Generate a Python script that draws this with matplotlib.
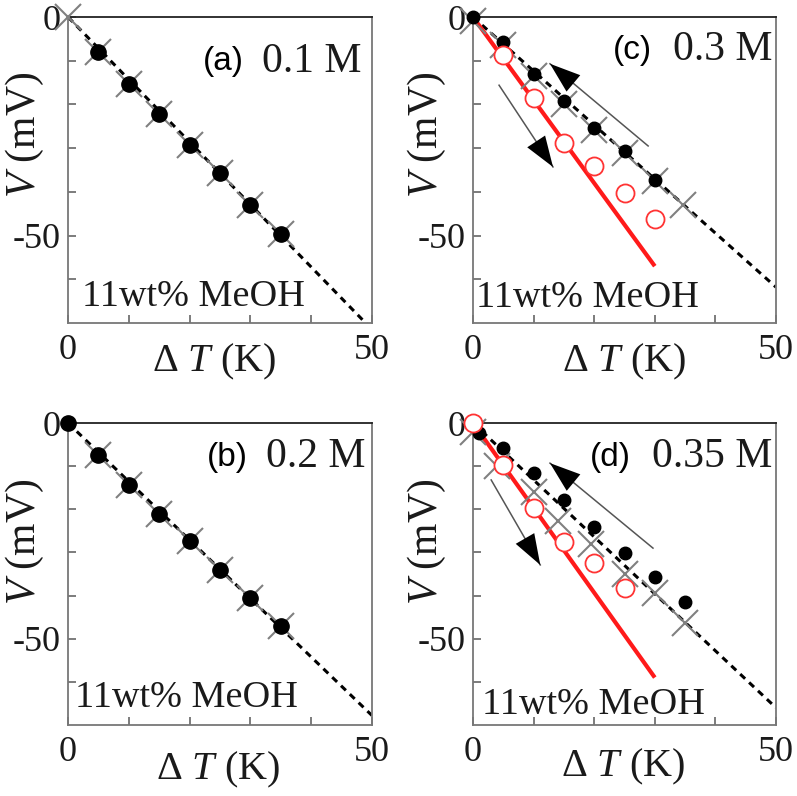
import matplotlib
matplotlib.use("Agg")
import matplotlib.pyplot as plt

plt.rcParams['font.family'] = ['Liberation Serif', 'DejaVu Serif']
plt.rcParams['mathtext.fontset'] = 'custom'
plt.rcParams['mathtext.rm'] = 'Liberation Serif'
plt.rcParams['mathtext.it'] = 'Liberation Serif:italic'
plt.rcParams['axes.unicode_minus'] = False

# ---------------- data ----------------
x_ticks = [0, 10, 20, 30, 40, 50]
x_ticklabels = ['0', '', '', '', '', '50']
y_ticks = [0, -10, -20, -30, -40, -50, -60]
y_ticklabels = ['0', '', '', '', '', '-50', '']

# (a) 0.1 M
a_T = [5, 10, 15, 20, 25, 30, 35]
a_V = [-8.1, -15.4, -22.3, -29.2, -35.6, -43.1, -49.6]
a_errT = [0, 5, 10, 15, 20, 25, 30, 35]
a_errV = [0, -8.1, -15.4, -22.3, -29.2, -35.6, -43.1, -49.6]
a_fitT = [0, 50]
a_fitV = [0, -71.5]

# (b) 0.2 M
b_T = [0, 5, 10, 15, 20, 25, 30, 35]
b_V = [0, -7.4, -14.3, -21.2, -27.4, -34.0, -40.6, -47.0]
b_errT = [5, 10, 15, 20, 25, 30, 35]
b_errV = [-7.4, -14.3, -21.2, -27.4, -34.0, -40.6, -47.0]
b_fitT = [0, 50]
b_fitV = [0, -67.8]

# (c) 0.3 M
c_T = [0, 5, 10, 15, 20, 25, 30]
c_V = [0, -5.7, -13.0, -19.3, -25.3, -30.6, -37.3]
c_errT = [0, 5, 10, 15, 20, 25, 30, 34.6]
c_errV = [-1, -6.5, -13.5, -20.0, -25.8, -31.0, -37.5, -42.9]
c_redT = [5, 10, 15, 20, 25, 30]
c_redV = [-8.8, -18.5, -28.9, -34.0, -40.2, -46.2]
c_fitT = [0, 50]
c_fitV = [0, -61.8]
c_redfitT = [0, 30]
c_redfitV = [0, -57.0]
c_arrow_up = ([28.9, 12.7], [-29.5, -10.7])
c_arrow_dn = ([4.3, 13.2], [-15.6, -34.3])

# (d) 0.35 M
d_T = [1, 5, 10, 15, 20, 25, 30, 35]
d_V = [-2.4, -5.9, -11.7, -17.8, -24.0, -30.2, -35.6, -41.4]
d_errT = [0, 4, 10, 14, 19.5, 25, 30, 35]
d_errV = [-2, -10, -15.9, -22.6, -28.0, -34.9, -39.5, -46.4]
d_redT = [0, 5, 10, 15, 20, 25]
d_redV = [0, -9.7, -19.8, -27.5, -32.5, -38.3]
d_fitT = [0, 50]
d_fitV = [0, -66.0]
d_redfitT = [0, 30]
d_redfitV = [0, -59.0]
d_arrow_up = ([29.7, 12.7], [-29.0, -9.3])
d_arrow_dn = ([3.0, 11.1], [-13.2, -32.9])

panels = [
    dict(rect=[68/797, 1-323/796, 304/797, 306/796], lab='(a)', conc='0.1 M',
         labx=0.444, concx=0.967, texty=0.853,
         T=a_T, V=a_V, eT=a_errT, eV=a_errV, fT=a_fitT, fV=a_fitV,
         meo=(0.046, 0.085), ylab=(-0.14, 0.614), xlab=(0.48, -0.127)),
    dict(rect=[473/797, 1-323/796, 303/797, 306/796], lab='(c)', conc='0.3 M',
         labx=0.462, concx=0.987, texty=0.892,
         T=c_T, V=c_V, eT=c_errT, eV=c_errV, fT=c_fitT, fV=c_fitV,
         rT=c_redT, rV=c_redV, rfT=c_redfitT, rfV=c_redfitV,
         arrows=[c_arrow_up, c_arrow_dn],
         meo=(0.01, 0.082), ylab=(-0.152, 0.614), xlab=(0.50, -0.127)),
    dict(rect=[68/797, 1-725/796, 304/797, 302/796], lab='(b)', conc='0.2 M',
         labx=0.457, concx=0.977, texty=0.887,
         T=b_T, V=b_V, eT=b_errT, eV=b_errV, fT=b_fitT, fV=b_fitV,
         meo=(0.023, 0.089), ylab=(-0.14, 0.606), xlab=(0.493, -0.149)),
    dict(rect=[473/797, 1-725/796, 303/797, 302/796], lab='(d)', conc='0.35 M',
         labx=0.386, concx=0.987, texty=0.887,
         T=d_T, V=d_V, eT=d_errT, eV=d_errV, fT=d_fitT, fV=d_fitV,
         rT=d_redT, rV=d_redV, rfT=d_redfitT, rfV=d_redfitV,
         arrows=[d_arrow_up, d_arrow_dn],
         meo=(0.03, 0.066), ylab=(-0.152, 0.606), xlab=(0.495, -0.139)),
]

fig = plt.figure(figsize=(7.97, 7.96), dpi=100)

for p in panels:
    ax = fig.add_axes(p['rect'])
    ax.set_xlim(0, 50)
    ax.set_ylim(-70, 0)
    ax.set_xticks(x_ticks, x_ticklabels)
    ax.set_yticks(y_ticks, y_ticklabels)
    ax.tick_params(direction='in', length=6, width=1.2, color='#666666',
                   labelsize=26, labelcolor='#1a1a1a')
    ax.tick_params(axis='x', pad=8)
    ax.tick_params(axis='y', pad=5)
    for s in ax.spines.values():
        s.set_color('#777777')
        s.set_linewidth(1.3)
    ax.spines['top'].set_color('#222222')

    # dashed fit line
    ax.plot(p['fT'], p['fV'], ls=(0, (2.2, 1.8)), color='black', lw=2.2,
            zorder=2, clip_on=True)
    # red line + open circles
    if 'rT' in p:
        ax.plot(p['rfT'], p['rfV'], color='#ff1a1a', lw=3, zorder=3,
                solid_capstyle='butt')
        ax.plot(p['rT'], p['rV'], ls='none', marker='o', ms=13, mfc='white',
                mec='#ff3333', mew=1.3, zorder=5, clip_on=False)
    # gray error crosses
    ax.plot(p['eT'], p['eV'], ls='none', marker='x', ms=19, mew=1.5,
            color='#808080', zorder=3, clip_on=False)
    # black filled points
    ms = 11 if 'rT' not in p else 9
    ax.plot(p['T'], p['V'], ls='none', marker='o', ms=ms, color='black',
            zorder=4, clip_on=False)
    # arrows
    for (ax_x, ax_y) in p.get('arrows', []):
        ax.plot(ax_x, ax_y, color='#555555', lw=1.1, zorder=2)
        dx = ax_x[1] - ax_x[0]
        dy = ax_y[1] - ax_y[0]
        ax.annotate('', xy=(ax_x[1], ax_y[1]),
                    xytext=(ax_x[1] - 0.25 * dx, ax_y[1] - 0.25 * dy),
                    arrowprops=dict(arrowstyle='-|>,head_length=1.0,head_width=0.35',
                                    color='black', lw=0, mutation_scale=22,
                                    shrinkA=0, shrinkB=0), zorder=4)

    ax.text(p['labx'], p['texty'], p['lab'], transform=ax.transAxes,
            fontsize=24, family=['Liberation Sans', 'DejaVu Sans'],
            ha='left', va='center')
    ax.text(p['concx'], p['texty'], p['conc'], transform=ax.transAxes,
            fontsize=30, ha='right', va='center', color='#1a1a1a')
    ax.text(p['meo'][0], p['meo'][1], '11wt% MeOH', transform=ax.transAxes,
            fontsize=27.5, ha='left', va='center', color='#1a1a1a')
    ax.text(p['ylab'][0], p['ylab'][1], r'$V$ (mV)', transform=ax.transAxes,
            fontsize=30, rotation=90, ha='center', va='center', color='#1a1a1a')
    ax.text(p['xlab'][0], p['xlab'][1], r'Δ $T$ (K)', transform=ax.transAxes,
            fontsize=29, ha='center', va='center', color='#1a1a1a')

fig.savefig('out.png', dpi=100)
